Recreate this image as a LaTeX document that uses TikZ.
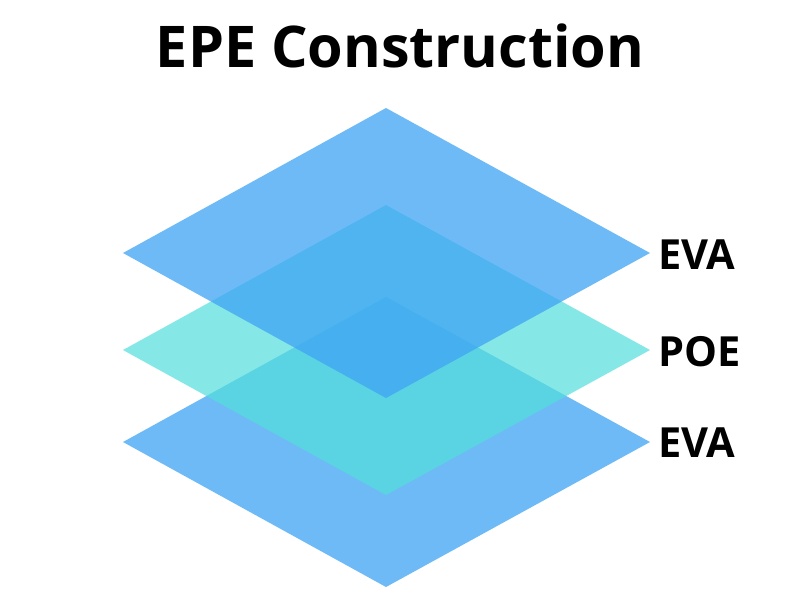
\documentclass[tikz,border=0pt]{standalone}
\usepackage{fontspec}
\setmainfont{Open Sans}
\definecolor{evablue}{RGB}{62,164,244}
\definecolor{poecyan}{RGB}{82,222,220}
\tikzset{
  evalayer/.style={fill=evablue,fill opacity=0.75,draw=none},
  poelayer/.style={fill=poecyan,fill opacity=0.7,draw=none},
  lbl/.style={anchor=west,inner sep=0pt,font=\fontsize{41.5}{48}\selectfont\bfseries},
  ttl/.style={inner sep=0pt,font=\fontsize{57.5}{70}\selectfont\bfseries}
}
\begin{document}
\begin{tikzpicture}[x=1pt,y=-1pt]
\useasboundingbox (0,0) rectangle (800,600);
\fill[white] (0,0) rectangle (800,600);
% bottom EVA
\fill[evalayer] (386,297) -- (650,442) -- (386,587) -- (123,442) -- cycle;
% POE
\fill[poelayer] (386,205) -- (650,350) -- (386,495) -- (123,350) -- cycle;
% top EVA
\fill[evalayer] (386,108) -- (650,253) -- (386,398) -- (123,253) -- cycle;
\node[ttl] (title) at (400,46) {EPE Construction};
\node[lbl] (eva1) at (658,255) {EVA};
\node[lbl] (poe) at (658,352) {POE};
\node[lbl] (eva2) at (658,443) {EVA};
\end{tikzpicture}
\end{document}
